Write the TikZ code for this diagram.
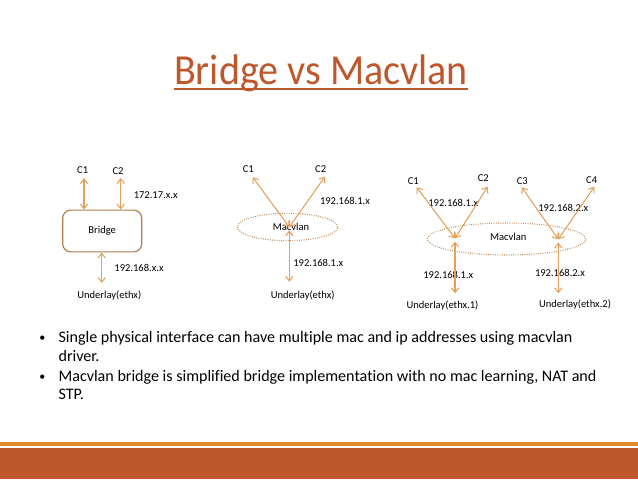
\documentclass[tikz,border=0pt]{standalone}
\usepackage{fontspec}
\setmainfont{Carlito}[Ligatures=NoCommon]
\usetikzlibrary{arrows.meta,shapes.geometric}
\definecolor{rust}{HTML}{BE582C}
\definecolor{barline}{HTML}{E2892B}
\definecolor{arr}{HTML}{E3A05A}
\definecolor{boxc}{HTML}{B08050}
\definecolor{dotc}{HTML}{B8804A}
\tikzset{
  lbl/.style={font=\fontsize{7.9}{9}\selectfont, inner sep=0pt, text=black},
  link/.style={arr, line width=0.8pt, {Straight Barb[length=3.5pt,width=5.5pt]}-{Straight Barb[length=3.5pt,width=5.5pt]}},
  bul/.style={font=\fontsize{12.05}{14}\selectfont, inner sep=0pt, anchor=base west, text=black},
  dotmark/.style={font=\fontsize{9}{10}\selectfont, inner sep=0pt, anchor=base west, text=black},
  ring/.style={draw=dotc, line width=0.8pt, dash pattern=on 0.6pt off 1.1pt, ellipse, inner sep=0pt},
}
\begin{document}
\begin{tikzpicture}[x=0.75pt,y=-0.75pt]
\useasboundingbox (0,0) rectangle (638,479);
% bottom bar
\fill[barline] (0,442) rectangle (638,446);
\fill[rust] (0,447.5) rectangle (638,479);
% title
\node[font=\fontsize{30}{34}\selectfont, text=rust, inner sep=0pt, anchor=base, yscale=1.07, transform shape] (title) at (321,84.5) {Bridge vs Macvlan};
\draw[rust, line width=1.4pt] ([yshift=-3.6pt]title.base west) -- ([yshift=-3.6pt]title.base east);

% ---------- Bridge ----------
\node[draw=boxc, line width=0.9pt, rounded corners=6pt, minimum width=59.3pt, minimum height=31.3pt, inner sep=0pt, font=\fontsize{7.9}{9}\selectfont] (bridge) at (102.2,231) {Bridge};
\node[lbl] (bc1) at (82.7,170) {C1};
\node[lbl] (bc2) at (118,171) {C2};
\node[lbl] (bip1) at (155.7,195) {172.17.x.x};
\node[lbl] (bip2) at (139,268) {192.168.x.x};
\node[lbl] (bu) at (109.3,295) {Underlay(ethx)};
\coordinate (bc1a) at (84,178);
\coordinate (bc2a) at (120.7,178);
\coordinate (bb) at (101.7,283);
\draw[link] (bc1a) -- (bc1a |- bridge.north);
\draw[link] (bc2a) -- (bc2a |- bridge.north);
\draw[link] (bb |- bridge.south) -- (bb);

% ---------- Macvlan 1 ----------
\node[ring, minimum width=75.3pt, minimum height=20.5pt] (m1) at (287.5,227) {};
\node[lbl] (m1t) at (291,226.7) {Macvlan};
\node[lbl] (m1c1) at (248.3,169.3) {C1};
\node[lbl] (m1c2) at (320.7,169.3) {C2};
\node[lbl] (m1ip1) at (345,200.7) {192.168.1.x};
\node[lbl] (m1ip2) at (318.3,262.7) {192.168.1.x};
\node[lbl] (m1u) at (302.7,295.7) {Underlay(ethx)};
\coordinate (m1j) at (289.3,227);
\coordinate (m1a1) at (252.7,177.3);
\coordinate (m1a2) at (325,176.7);
\coordinate (m1b) at (289.3,281.7);
\draw[link] (m1a1) -- (m1j);
\draw[link] (m1a2) -- (m1j);
\draw[link] ([yshift=-2.5pt]m1j) -- (m1b);

% ---------- Macvlan 2 ----------
\node[ring, minimum width=118.8pt, minimum height=24pt] (m2) at (506.5,239) {};
\node[lbl] (m2t) at (508.3,237.3) {Macvlan};
\node[lbl] (m2c1) at (413.3,180.7) {C1};
\node[lbl] (m2c2) at (483.3,178.3) {C2};
\node[lbl] (m2c3) at (522.3,180.7) {C3};
\node[lbl] (m2c4) at (591.7,180) {C4};
\node[lbl] (m2ip1) at (453.3,203.3) {192.168.1.x};
\node[lbl] (m2ip2) at (563.3,208.3) {192.168.2.x};
\node[lbl] (m2ip3) at (448.3,275) {192.168.1.x};
\node[lbl] (m2ip4) at (560,273.3) {192.168.2.x};
\node[lbl] (m2u1) at (442.5,305) {Underlay(ethx.1)};
\node[lbl] (m2u2) at (575,304) {Underlay(ethx.2)};
\coordinate (j1) at (455,238.3);
\coordinate (j2) at (558.3,239.3);
\coordinate (a1) at (416.7,187.3);
\coordinate (a2) at (487.7,186.7);
\coordinate (a3) at (521.7,187.3);
\coordinate (a4) at (594.3,186.7);
\coordinate (b1) at (455,293.3);
\coordinate (b2) at (558.3,293.3);
\draw[link] (a1) -- (j1);
\draw[link] (a2) -- (j1);
\draw[link] (a3) -- (j2);
\draw[link] (a4) -- (j2);
\draw[link] ([yshift=-2.5pt]j1) -- (b1);
\draw[link] ([yshift=-2.5pt]j2) -- (b2);

% ---------- bullets ----------
\node[dotmark] (d1) at (39,341) {•};
\node[bul] (l1) at (58.3,342.3) {Single physical interface can have multiple mac and ip addresses using macvlan};
\node[bul] (l2) at (58.3,361) {driver.};
\node[dotmark] (d2) at (39,380.4) {•};
\node[bul] (l3) at (58.3,381.7) {Macvlan bridge is simplified bridge implementation with no mac learning, NAT and};
\node[bul] (l4) at (58.3,399.5) {STP.};
\end{tikzpicture}
\end{document}
